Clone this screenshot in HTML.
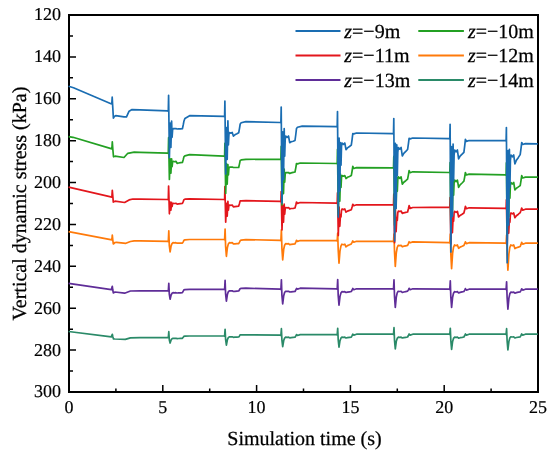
<!DOCTYPE html>
<html><head><meta charset="utf-8"><title>Vertical dynamic stress</title>
<style>html,body{margin:0;padding:0;background:#fff;}svg{display:block;}</style>
</head><body>
<svg width="550" height="456" viewBox="0 0 550 456" text-rendering="geometricPrecision">
<rect width="550" height="456" fill="#fff"/>
<rect x="69" y="15" width="469" height="377" fill="none" stroke="#000" stroke-width="2"/>
<g fill="none" stroke-width="1.7" stroke-linejoin="round" stroke-linecap="butt">
<polyline stroke="#2a8a68" points="68.6,331.5 111.3,336.9 112.3,334.3 112.9,337.0 113.5,338.9 115.0,339.0 125.3,339.4 130.4,337.9 140.0,337.7 167.6,337.4 168.3,337.7 168.8,331.7 169.3,339.7 170.1,343.1 171.1,340.0 172.0,338.8 173.0,338.3 174.6,338.4 175.9,338.3 177.1,338.6 178.6,338.5 180.6,338.4 182.4,338.3 183.2,337.3 183.9,336.3 184.9,336.1 189.6,336.0 223.9,335.8 224.6,336.1 225.1,329.3 225.6,339.5 226.4,345.1 227.4,339.7 228.3,337.6 229.3,336.8 230.9,336.9 232.2,336.8 233.4,337.3 234.9,337.2 236.9,337.1 238.7,337.0 239.5,335.9 240.2,334.8 241.2,334.8 245.9,334.8 280.2,335.2 280.9,335.5 281.4,328.7 281.9,339.8 282.7,346.7 283.7,340.5 284.6,338.1 285.6,337.2 287.2,337.3 288.5,337.2 289.7,337.8 291.2,337.6 293.2,337.4 295.0,337.2 295.8,335.9 296.5,334.6 297.5,335.5 300.2,334.6 336.5,334.6 337.2,334.9 337.7,328.3 338.2,339.6 339.0,347.1 340.0,340.7 340.9,338.2 341.9,337.2 343.5,337.4 344.8,337.2 346.0,338.0 347.5,337.7 349.5,337.4 351.3,337.2 352.1,335.7 352.8,334.2 353.8,335.1 356.5,334.2 392.8,334.2 393.5,334.5 394.0,327.7 394.5,340.1 395.3,349.0 396.3,341.3 397.2,338.4 398.2,337.2 399.8,337.4 401.1,337.2 402.3,338.0 403.8,337.6 405.8,337.3 407.6,337.0 408.4,335.5 409.1,334.0 410.1,335.1 412.8,334.2 449.1,334.2 449.8,334.5 450.3,328.3 450.8,340.3 451.6,349.4 452.6,341.5 453.5,338.4 454.5,337.2 456.1,337.4 457.4,337.2 458.6,338.2 460.1,337.7 462.1,337.4 463.9,337.0 464.7,335.5 465.4,334.0 466.4,335.1 469.1,334.2 505.4,334.2 506.1,334.5 506.6,328.7 507.1,340.5 507.9,350.0 508.9,341.4 509.8,338.1 510.8,336.8 512.4,337.0 513.7,336.8 514.9,338.0 516.4,337.5 518.4,337.2 520.2,336.8 521.0,335.4 521.7,334.0 522.7,335.1 525.4,334.2 537.8,334.2"/>
<polyline stroke="#5f2d98" points="68.6,283.4 111.3,289.7 112.3,286.3 112.8,290.0 113.3,292.9 115.0,292.0 124.6,293.2 130.4,291.0 140.0,290.9 167.6,290.7 168.3,291.0 168.8,283.3 169.3,294.1 170.1,299.2 171.1,295.0 172.0,293.3 173.0,292.7 174.6,292.8 175.9,292.7 177.1,293.0 178.6,292.9 180.6,292.8 182.4,292.7 183.2,291.2 183.9,289.8 184.9,289.6 189.6,289.3 223.9,289.2 224.6,289.5 225.1,280.3 225.6,294.0 226.4,301.2 227.4,294.4 228.3,291.8 229.3,290.8 230.9,290.9 232.2,290.8 233.4,291.5 234.9,291.3 236.9,291.1 238.7,291.0 239.5,289.8 240.2,288.5 241.2,288.4 245.9,288.2 280.2,289.2 280.9,289.5 281.4,279.9 281.9,295.1 282.7,304.0 283.7,295.7 284.6,292.6 285.6,291.3 287.2,291.4 288.5,291.3 289.7,292.0 291.2,291.8 293.2,291.6 295.0,291.5 295.8,290.0 296.5,288.5 297.5,289.1 300.2,288.2 336.5,288.8 337.2,289.1 337.7,279.5 338.2,295.4 339.0,305.2 340.0,296.4 340.9,293.1 341.9,291.7 343.5,291.9 344.8,291.7 346.0,292.5 347.5,292.1 349.5,291.8 351.3,291.5 352.1,290.0 352.8,288.5 353.8,289.7 356.5,288.8 392.8,288.8 393.5,289.1 394.0,279.9 394.5,296.3 395.3,307.5 396.3,297.0 397.2,292.9 398.2,291.3 399.8,291.5 401.1,291.3 402.3,292.5 403.8,292.0 405.8,291.6 407.6,291.2 408.4,289.8 409.1,288.3 410.1,289.7 412.8,288.8 449.1,289.2 449.8,289.5 450.3,280.9 450.8,296.5 451.6,307.5 452.6,297.2 453.5,293.3 454.5,291.7 456.1,292.0 457.4,291.7 458.6,293.0 460.1,292.4 462.1,291.9 463.9,291.5 464.7,290.1 465.4,288.6 466.4,290.1 469.1,289.2 505.4,289.2 506.1,289.5 506.6,281.9 507.1,297.2 507.9,309.1 508.9,298.1 509.8,293.8 510.8,292.1 512.4,292.3 513.7,292.1 514.9,293.2 516.4,292.6 518.4,292.2 520.2,291.8 521.0,290.3 521.7,288.8 522.7,290.1 525.4,289.2 537.8,289.2"/>
<polyline stroke="#ff7a0a" points="68.6,231.6 111.9,239.8 112.3,235.1 112.8,240.0 113.3,244.0 115.0,242.5 116.4,242.4 125.9,243.3 130.4,241.5 134.2,240.8 140.0,240.9 167.6,241.3 168.3,241.6 168.8,230.8 169.3,245.5 170.1,251.9 171.1,245.9 172.0,243.6 173.0,242.7 174.6,242.8 175.9,242.7 177.1,243.2 178.6,243.2 180.6,243.2 182.4,243.2 183.2,241.8 183.9,240.3 184.9,239.9 189.6,239.5 223.9,239.5 224.6,239.8 225.1,229.1 225.6,246.2 226.4,256.3 227.4,247.5 228.3,244.1 229.3,242.7 230.9,242.9 232.2,242.7 233.4,243.9 234.9,243.8 236.9,243.7 238.7,243.6 239.5,242.1 240.2,240.7 241.2,240.1 245.9,239.6 280.2,240.3 280.9,240.6 281.4,229.9 281.9,248.1 282.7,259.9 283.7,249.3 284.6,245.2 285.6,243.6 287.2,243.8 288.5,243.6 289.7,244.6 291.2,244.3 293.2,244.1 295.0,243.9 295.8,242.1 296.5,240.3 297.5,241.4 300.2,240.5 336.5,240.7 337.2,241.0 337.7,233.0 338.2,249.7 339.0,263.1 340.0,250.8 340.9,246.1 341.9,244.2 343.5,244.7 344.8,244.2 346.0,246.8 347.5,245.6 349.5,244.8 351.3,243.9 352.1,242.4 352.8,241.0 353.8,242.2 356.5,241.3 392.8,241.3 393.5,241.6 394.0,234.0 394.5,251.4 395.3,266.5 396.3,252.8 397.2,247.5 398.2,245.4 399.8,245.7 401.1,245.4 402.3,246.8 403.8,246.2 405.8,245.8 407.6,245.4 408.4,243.6 409.1,241.7 410.1,242.8 412.8,241.9 449.1,242.6 449.8,242.9 450.3,234.0 450.8,253.0 451.6,268.6 452.6,253.3 453.5,247.4 454.5,245.0 456.1,245.7 457.4,245.0 458.6,248.3 460.1,247.1 462.1,246.3 463.9,245.4 464.7,243.7 465.4,241.9 466.4,243.6 469.1,242.7 505.4,243.2 506.1,243.5 506.6,235.0 507.1,254.0 507.9,270.1 508.9,253.8 509.8,247.5 510.8,245.0 512.4,245.7 513.7,245.0 514.9,248.6 516.4,247.8 518.4,247.1 520.2,246.5 521.0,244.4 521.7,242.3 522.7,244.1 525.4,243.2 537.8,243.2"/>
<polyline stroke="#e3161c" points="68.6,187.2 111.9,197.1 112.3,190.4 112.8,196.0 113.3,202.1 115.0,201.2 124.6,202.5 129.1,199.9 132.9,199.0 140.0,199.2 167.6,199.5 168.3,199.8 168.6,186.1 169.4,213.8 170.2,202.2 170.9,210.1 171.6,202.4 172.1,206.5 172.6,203.8 173.2,203.3 174.6,203.5 175.9,203.3 177.1,204.1 178.6,203.9 180.6,203.7 182.4,203.5 183.2,201.6 183.9,199.7 184.9,199.2 189.6,198.8 223.9,199.5 224.6,199.8 224.9,186.6 225.7,222.2 226.5,203.3 227.2,216.2 227.9,201.4 228.4,210.2 228.9,205.9 229.5,205.0 230.9,205.4 232.2,205.0 233.4,206.9 234.9,206.6 236.9,206.3 238.7,206.1 239.5,203.4 240.2,200.8 241.2,200.8 245.9,200.7 280.2,201.4 280.9,201.7 281.2,191.6 282.0,230.0 282.8,205.7 283.5,222.1 284.2,204.2 284.7,214.2 285.2,208.6 285.8,207.5 287.2,207.8 288.5,207.5 289.7,208.9 291.2,208.5 293.2,208.3 295.0,208.0 295.8,205.0 296.5,202.0 297.5,203.4 300.2,202.5 336.5,203.1 337.2,203.4 337.5,192.8 338.3,235.6 339.1,207.2 339.8,226.3 340.5,214.3 341.0,217.0 341.5,210.3 342.1,209.0 343.5,209.6 344.8,209.0 346.0,212.1 347.5,211.1 349.5,210.4 351.3,209.7 352.1,207.0 352.8,204.3 353.8,205.7 356.5,204.8 392.8,204.8 393.5,205.1 393.8,194.2 394.6,242.7 395.4,209.1 396.1,231.6 396.8,217.3 397.3,220.5 397.8,212.6 398.4,211.0 399.8,211.5 401.1,211.0 402.3,213.4 403.8,212.8 405.8,212.4 407.6,212.0 408.4,208.8 409.1,205.6 410.1,208.4 412.8,207.5 449.1,207.1 449.8,207.4 450.1,197.6 450.9,244.0 451.7,210.0 452.4,232.6 453.1,217.8 453.6,221.1 454.1,212.9 454.7,211.3 456.1,212.4 457.4,211.3 458.6,217.0 460.1,215.4 462.1,214.2 463.9,213.0 464.7,209.7 465.4,206.4 466.4,208.7 469.1,207.8 505.4,208.4 506.1,208.7 506.4,199.9 507.2,244.0 508.0,211.6 508.7,233.2 509.4,219.2 509.9,222.3 510.4,214.6 511.0,213.0 512.4,213.9 513.7,213.0 514.9,217.7 516.4,215.7 518.4,214.2 520.2,212.7 521.0,210.3 521.7,208.0 522.7,210.1 525.4,209.2 537.8,209.1"/>
<polyline stroke="#23a023" points="68.6,136.7 73.0,137.3 111.9,148.9 112.3,141.8 112.9,150.0 113.5,156.8 115.1,156.2 124.0,157.5 127.8,153.3 134.2,152.2 140.0,152.4 167.6,153.1 168.3,153.4 168.6,137.7 169.4,179.4 170.2,158.8 170.9,173.1 171.6,158.9 172.1,166.7 172.6,162.2 173.2,161.3 174.6,161.7 175.9,161.3 177.1,163.3 178.6,163.0 180.6,162.7 182.4,162.5 183.2,159.7 183.9,156.9 184.9,155.8 189.6,154.7 223.9,156.1 224.6,156.4 224.9,143.4 225.7,193.4 226.5,163.7 227.2,184.2 227.9,164.6 228.4,174.9 228.9,168.3 229.5,167.0 230.9,167.1 232.2,167.0 233.4,167.5 234.9,167.5 236.9,167.5 238.7,167.5 239.5,163.9 240.2,160.4 241.2,159.9 245.9,159.3 280.2,159.2 280.9,159.5 281.2,146.4 282.0,205.0 282.8,168.5 283.5,193.6 284.2,169.2 284.7,182.2 285.2,174.1 285.8,172.5 287.2,172.7 288.5,172.5 289.7,173.5 291.2,172.9 293.2,172.4 295.0,172.0 295.8,167.8 296.5,163.5 297.5,163.9 300.2,163.0 336.5,163.5 337.2,163.8 337.5,149.3 338.3,215.0 339.1,172.0 339.8,201.2 340.5,174.2 341.0,187.4 341.5,177.6 342.1,175.6 343.5,176.2 344.8,175.6 346.0,178.5 347.5,177.3 349.5,176.5 351.3,175.6 352.1,171.0 352.8,166.4 353.8,168.5 356.5,167.6 392.8,167.8 393.5,168.1 393.8,156.4 394.6,225.0 395.4,174.1 396.1,208.1 396.8,177.1 397.3,191.3 397.8,179.2 398.4,176.8 399.8,178.3 401.1,176.8 402.3,184.2 403.8,182.2 405.8,180.7 407.6,179.2 408.4,174.9 409.1,170.7 410.1,172.7 412.8,171.8 449.1,172.5 449.8,172.8 450.1,162.6 450.9,230.0 451.7,177.9 452.4,212.6 453.1,179.6 453.6,195.1 454.1,182.7 454.7,180.2 456.1,181.6 457.4,180.2 458.6,187.3 460.1,184.9 462.1,183.0 463.9,181.2 464.7,176.8 465.4,172.5 466.4,175.0 469.1,174.1 505.4,174.9 506.1,175.2 506.4,162.8 507.2,235.0 508.0,180.2 508.7,216.6 509.4,182.8 509.9,198.2 510.4,185.1 511.0,182.5 512.4,184.0 513.7,182.5 514.9,189.9 516.4,188.2 518.4,186.9 520.2,185.6 521.0,180.6 521.7,175.7 522.7,178.0 525.4,177.1 537.8,177.1"/>
<polyline stroke="#1a6db2" points="68.6,86.3 73.5,87.8 111.0,103.7 111.8,103.8 112.2,97.2 112.8,108.0 113.4,118.2 114.3,116.5 115.7,115.6 124.0,116.9 126.5,116.9 129.1,111.2 132.0,109.6 140.0,109.8 167.6,110.9 168.3,111.2 168.6,95.3 169.4,157.7 170.2,123.2 170.9,147.5 171.6,121.0 172.1,137.3 172.6,130.0 173.2,128.5 174.6,128.6 175.9,128.5 177.1,129.0 178.6,128.9 180.6,128.8 182.4,128.7 183.2,125.0 183.9,121.3 184.9,118.5 189.6,115.7 223.9,116.4 224.6,116.7 224.9,101.0 225.7,174.0 226.5,127.7 227.2,159.5 227.9,120.8 228.4,144.9 228.9,134.6 229.5,132.5 230.9,133.2 232.2,132.5 233.4,136.1 234.9,134.8 236.9,133.8 238.7,132.8 239.5,128.4 240.2,124.0 241.2,122.8 245.9,121.6 280.2,122.5 280.9,122.8 281.2,107.1 282.0,203.0 282.8,131.9 283.5,179.6 284.2,128.5 284.7,156.1 285.2,139.3 285.8,136.0 287.2,137.3 288.5,136.0 289.7,142.7 291.2,141.8 293.2,141.2 295.0,140.5 295.8,134.5 296.5,128.5 297.5,127.3 302.2,126.1 336.5,126.7 337.2,127.0 337.5,111.6 338.3,217.0 339.1,138.1 339.8,191.1 340.5,142.5 341.0,165.2 341.5,146.7 342.1,143.0 343.5,144.3 344.8,143.0 346.0,149.7 347.5,147.9 349.5,146.5 351.3,145.1 352.1,139.4 352.8,133.7 353.8,133.9 356.5,133.0 392.8,133.7 393.5,134.0 393.8,118.6 394.6,241.0 395.4,143.4 396.1,208.3 396.8,144.9 397.3,175.6 397.8,152.2 398.4,147.5 399.8,149.2 401.1,147.5 402.3,156.0 403.8,153.4 405.8,151.4 407.6,149.5 408.4,143.9 409.1,138.3 410.1,138.9 412.8,138.0 449.1,138.6 449.8,138.9 450.1,124.3 450.9,252.0 451.7,146.6 452.4,216.3 453.1,144.0 453.6,180.6 454.1,155.1 454.7,150.0 456.1,151.8 457.4,150.0 458.6,158.8 460.1,156.2 462.1,154.2 463.9,152.3 464.7,145.8 465.4,139.3 466.4,141.4 469.1,140.5 505.4,140.6 506.1,140.9 506.4,127.5 507.2,262.7 508.0,150.7 508.7,225.0 509.4,149.4 509.9,187.3 510.4,160.4 511.0,155.0 512.4,156.8 513.7,155.0 514.9,163.9 516.4,160.2 518.4,157.4 520.2,154.6 521.0,148.6 521.7,142.5 522.7,144.5 525.4,143.6 537.8,143.8"/>
</g>
<path d="M69 15.00H76 M69 56.89H76 M69 98.78H76 M69 140.67H76 M69 182.56H76 M69 224.44H76 M69 266.33H76 M69 308.22H76 M69 350.11H76 M69 392.00H76 M69 35.94H73 M69 77.83H73 M69 119.72H73 M69 161.61H73 M69 203.50H73 M69 245.39H73 M69 287.28H73 M69 329.17H73 M69 371.06H73 M69.00 392V385 M162.80 392V385 M256.60 392V385 M350.40 392V385 M444.20 392V385 M538.00 392V385 M115.90 392V388.5 M209.70 392V388.5 M303.50 392V388.5 M397.30 392V388.5 M491.10 392V388.5" stroke="#000" stroke-width="1.5" fill="none"/>
<g font-family="Liberation Serif, Times New Roman, serif" font-size="18" fill="#000" stroke="#000" stroke-width="0.2">
<text x="61" y="20.4" text-anchor="end">120</text>
<text x="61" y="62.3" text-anchor="end">140</text>
<text x="61" y="104.2" text-anchor="end">160</text>
<text x="61" y="146.1" text-anchor="end">180</text>
<text x="61" y="188.0" text-anchor="end">200</text>
<text x="61" y="229.8" text-anchor="end">220</text>
<text x="61" y="271.7" text-anchor="end">240</text>
<text x="61" y="313.6" text-anchor="end">260</text>
<text x="61" y="355.5" text-anchor="end">280</text>
<text x="61" y="397.4" text-anchor="end">300</text>
<text x="69.0" y="413.2" text-anchor="middle">0</text>
<text x="162.8" y="413.2" text-anchor="middle">5</text>
<text x="256.6" y="413.2" text-anchor="middle">10</text>
<text x="350.4" y="413.2" text-anchor="middle">15</text>
<text x="444.2" y="413.2" text-anchor="middle">20</text>
<text x="538.0" y="413.2" text-anchor="middle">25</text>
</g>
<text x="304.5" y="445.3" text-anchor="middle" font-family="Liberation Serif, Times New Roman, serif" font-size="20" stroke="#000" stroke-width="0.25">Simulation time (s)</text>
<text transform="translate(26.3,203.5) rotate(-90)" text-anchor="middle" font-family="Liberation Serif, Times New Roman, serif" font-size="20" stroke="#000" stroke-width="0.25">Vertical dynamic stress (kPa)</text>
<line x1="295.5" y1="31.0" x2="340.5" y2="31.0" stroke="#1a6db2" stroke-width="1.8"/>
<text x="344.3" y="37.7" font-family="Liberation Serif, Times New Roman, serif" font-size="20" stroke="#000" stroke-width="0.25"><tspan font-style="italic">z</tspan>=&#8722;9m</text>
<line x1="418.3" y1="31.0" x2="463.9" y2="31.0" stroke="#23a023" stroke-width="1.8"/>
<text x="467.9" y="37.7" font-family="Liberation Serif, Times New Roman, serif" font-size="20" stroke="#000" stroke-width="0.25"><tspan font-style="italic">z</tspan>=&#8722;10m</text>
<line x1="295.5" y1="55.5" x2="340.5" y2="55.5" stroke="#e3161c" stroke-width="1.8"/>
<text x="344.3" y="62.2" font-family="Liberation Serif, Times New Roman, serif" font-size="20" stroke="#000" stroke-width="0.25"><tspan font-style="italic">z</tspan>=&#8722;11m</text>
<line x1="418.3" y1="55.5" x2="463.9" y2="55.5" stroke="#ff7a0a" stroke-width="1.8"/>
<text x="467.9" y="62.2" font-family="Liberation Serif, Times New Roman, serif" font-size="20" stroke="#000" stroke-width="0.25"><tspan font-style="italic">z</tspan>=&#8722;12m</text>
<line x1="295.5" y1="80.0" x2="340.5" y2="80.0" stroke="#5f2d98" stroke-width="1.8"/>
<text x="344.3" y="86.7" font-family="Liberation Serif, Times New Roman, serif" font-size="20" stroke="#000" stroke-width="0.25"><tspan font-style="italic">z</tspan>=&#8722;13m</text>
<line x1="418.3" y1="80.0" x2="463.9" y2="80.0" stroke="#2a8a68" stroke-width="1.8"/>
<text x="467.9" y="86.7" font-family="Liberation Serif, Times New Roman, serif" font-size="20" stroke="#000" stroke-width="0.25"><tspan font-style="italic">z</tspan>=&#8722;14m</text>
</svg>
</body></html>
